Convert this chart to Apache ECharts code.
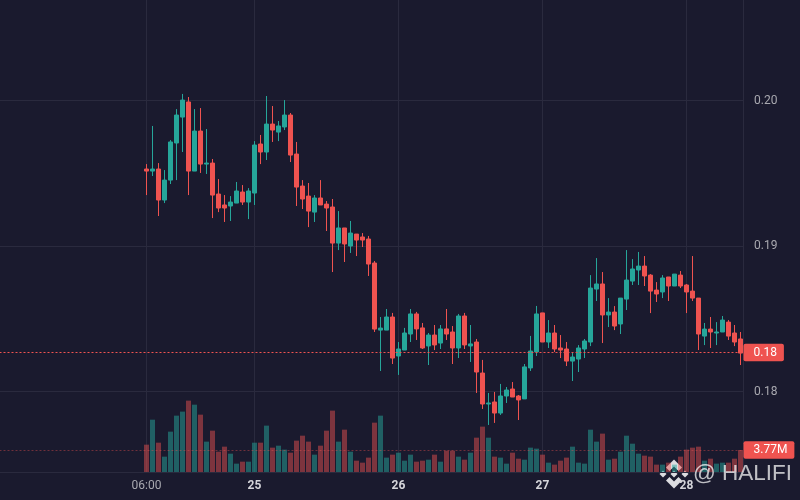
<!DOCTYPE html>
<html>
<head>
<meta charset="utf-8">
<style>html,body{margin:0;padding:0;background:#1a1a2e;}#c{width:800px;height:500px;}</style>
<script src="https://cdn.jsdelivr.net/npm/echarts@6/dist/echarts.min.js"></script>
</head>
<body>
<div id="c"></div>
<script>
const opens = [0.19529,0.19515,0.19529,0.19316,0.19453,0.19708,0.19886,0.19990,0.19515,0.19790,
0.19563,0.19570,0.19357,0.19282,0.19275,0.19295,0.19371,0.19302,0.19364,0.19701,
0.19646,0.19838,0.19783,0.19818,0.19900,0.19632,0.19412,0.19343,0.19233,0.19330,
0.19288,0.19268,0.19020,0.19124,0.19000,0.19082,0.19062,0.19048,0.18883,0.18422,
0.18422,0.18512,0.18244,0.18285,0.18395,0.18533,0.18437,0.18313,0.18388,0.18333,
0.18430,0.18409,0.18299,0.18519,0.18313,0.18340,0.18127,0.17914,0.17928,0.17852,
0.17969,0.18017,0.17969,0.17949,0.18162,0.18272,0.18540,0.18340,0.18402,0.18299,
0.18292,0.18209,0.18223,0.18292,0.18340,0.18704,0.18739,0.18526,0.18546,0.18464,
0.18635,0.18759,0.18835,0.18862,0.18800,0.18697,0.18684,0.18787,0.18725,0.18800,
0.18732,0.18690,0.18642,0.18381,0.18429,0.18402,0.18409,0.18477,0.18402,0.18361];
const closes = [0.19515,0.19529,0.19316,0.19453,0.19715,0.19900,0.20003,0.19515,0.19790,0.19563,
0.19570,0.19350,0.19261,0.19261,0.19302,0.19378,0.19302,0.19378,0.19694,0.19646,
0.19838,0.19797,0.19825,0.19900,0.19625,0.19405,0.19323,0.19240,0.19330,0.19282,
0.19261,0.19020,0.19124,0.19014,0.19089,0.19041,0.19041,0.18876,0.18429,0.18436,
0.18512,0.18230,0.18292,0.18402,0.18533,0.18430,0.18299,0.18388,0.18320,0.18430,
0.18395,0.18299,0.18519,0.18320,0.18327,0.18134,0.17914,0.17921,0.17852,0.17969,
0.18010,0.17962,0.17942,0.18169,0.18278,0.18533,0.18340,0.18402,0.18292,0.18285,
0.18209,0.18237,0.18299,0.18347,0.18711,0.18739,0.18526,0.18546,0.18450,0.18642,
0.18766,0.18842,0.18862,0.18794,0.18690,0.18670,0.18780,0.18725,0.18807,0.18725,
0.18684,0.18642,0.18395,0.18429,0.18409,0.18409,0.18491,0.18381,0.18340,0.18264];
const lows = [0.19350,0.19481,0.19206,0.19295,0.19426,0.19453,0.19646,0.19350,0.19515,0.19502,
0.19495,0.19192,0.19233,0.19165,0.19172,0.19295,0.19282,0.19185,0.19282,0.19563,
0.19591,0.19715,0.19721,0.19797,0.19577,0.19275,0.19254,0.19130,0.19165,0.19282,
0.19103,0.18821,0.18972,0.18890,0.18952,0.18931,0.18993,0.18794,0.18409,0.18141,
0.18422,0.18189,0.18114,0.18285,0.18340,0.18354,0.18292,0.18182,0.18285,0.18292,
0.18354,0.18189,0.18230,0.18292,0.18203,0.17990,0.17880,0.17770,0.17784,0.17839,
0.17921,0.17962,0.17804,0.17949,0.18141,0.18244,0.18340,0.18299,0.18271,0.18230,
0.18175,0.18072,0.18134,0.18230,0.18312,0.18622,0.18333,0.18443,0.18422,0.18395,
0.18560,0.18732,0.18732,0.18725,0.18539,0.18615,0.18642,0.18622,0.18725,0.18711,
0.18539,0.18622,0.18285,0.18319,0.18299,0.18319,0.18409,0.18354,0.18312,0.18182];
const highs = [0.19563,0.19825,0.19570,0.19522,0.19728,0.19941,0.20045,0.20024,0.19941,0.19948,
0.19804,0.19598,0.19460,0.19350,0.19343,0.19440,0.19419,0.19398,0.19721,0.19763,
0.20031,0.19962,0.19859,0.20003,0.19914,0.19715,0.19453,0.19433,0.19350,0.19453,
0.19309,0.19323,0.19240,0.19124,0.19172,0.19082,0.19089,0.19069,0.18897,0.18512,
0.18567,0.18540,0.18340,0.18437,0.18567,0.18547,0.18471,0.18402,0.18457,0.18457,
0.18567,0.18450,0.18533,0.18540,0.18457,0.18361,0.18217,0.17990,0.17997,0.18052,
0.18031,0.18065,0.17976,0.18189,0.18382,0.18588,0.18540,0.18491,0.18457,0.18388,
0.18340,0.18271,0.18319,0.18361,0.18800,0.18917,0.18821,0.18642,0.18587,0.18642,
0.18972,0.18910,0.18959,0.18931,0.18807,0.18752,0.18800,0.18787,0.18807,0.18828,
0.18739,0.18931,0.18642,0.18471,0.18512,0.18477,0.18519,0.18491,0.18457,0.18409];
const volumes = [4.68,8.96,5.02,2.63,6.91,9.65,10.34,12.22,11.53,9.82,
5.20,7.08,3.48,4.34,3.14,1.43,1.77,1.77,5.02,5.02,
7.94,4.17,4.51,3.83,3.31,5.37,6.22,5.20,2.97,4.51,
7.08,10.51,5.20,7.25,3.48,1.94,1.60,2.46,8.45,9.65,
2.46,2.97,3.31,1.94,2.97,1.77,1.94,2.11,2.97,1.77,
3.65,3.65,2.63,2.11,3.31,5.88,7.77,5.88,2.63,2.46,
1.43,3.31,2.28,2.11,4.17,4.00,2.97,1.60,1.26,1.94,
2.46,4.34,1.60,1.43,7.25,5.20,6.57,2.11,2.28,3.48,
6.22,4.85,3.14,2.80,2.63,1.26,1.26,1.60,1.26,2.63,
3.83,4.17,4.34,1.94,2.28,1.43,1.60,1.60,2.28,3.77];
const priceTicks = [0.18, 0.19, 0.20];
const leadingBlank = 24;
const tickLabels = {24: '06:00', 42: '25', 66: '26', 90: '27', 114: '28'};
const lastPrice = 0.18268, lastPriceLabel = '0.18';
const lastVolume = 3.77, lastVolumeLabel = '3.77M';
const watermark = '@ HALIFI';

const UP = '#26a69a', DOWN = '#ef5350', GRID = '#2a2a3e', BG = '#1a1a2e', TXT = '#a9a9b0';
const FONT = 'Roboto, sans-serif';
const blanks = Array(leadingBlank).fill('-');
const cats = Array.from({length: leadingBlank + opens.length}, (_, i) => String(i));
const isTick = i => tickLabels[i] !== undefined;
const candle = blanks.concat(opens.map((o, i) => [o, closes[i], lows[i], highs[i]]));
const vols = blanks.concat(volumes.map((v, i) => ({
  value: v,
  itemStyle: {color: closes[i] > opens[i] ? 'rgba(38,166,154,0.5)' : 'rgba(239,83,80,0.47)'}
})));
const GL = -0.5, GW = 744;

function markLabel(text) {
  return {
    show: true, position: 'end', distance: 0, formatter: text, color: '#fff',
    backgroundColor: DOWN, borderRadius: 2, fontSize: 12, fontFamily: FONT,
    padding: [3, 7, 3, 10], lineHeight: 11.5, align: 'left'
  };
}
const chart = echarts.init(document.getElementById('c'), null, {renderer: 'canvas'});
chart.setOption({
  backgroundColor: BG,
  animation: false,
  grid: [
    {left: GL, width: GW, top: 0, height: 472, outerBoundsMode: 'none'},
    {left: GL, width: GW, top: 392, height: 80, outerBoundsMode: 'none'}
  ],
  xAxis: [
    {type: 'category', gridIndex: 0, data: cats, boundaryGap: true,
     axisLine: {show: true, lineStyle: {color: GRID}}, axisTick: {show: false},
     splitLine: {show: true, interval: isTick, alignWithLabel: true, lineStyle: {color: GRID, width: 1}},
     axisLabel: {interval: isTick, margin: 8, color: TXT, fontSize: 12, fontFamily: FONT,
       hideOverlap: false,
       formatter: (v, i) => { const t = tickLabels[i]; return t === undefined ? '' : (t.includes(':') ? t : '{b|' + t + '}'); },
       rich: {b: {fontWeight: 'bold', color: '#d5d5da', fontSize: 12, fontFamily: FONT}}}},
    {type: 'category', gridIndex: 1, data: cats, boundaryGap: true, show: false}
  ],
  yAxis: [
    {type: 'value', gridIndex: 0, position: 'right', scale: true,
     min: 0.2 - 371.5 / 14550, max: 0.2 + 100.5 / 14550,
     axisLine: {show: true, lineStyle: {color: GRID}}, axisTick: {show: false, customValues: priceTicks},
     splitLine: {show: true, lineStyle: {color: GRID, width: 1}},
     axisLabel: {customValues: priceTicks, margin: 10.5, padding: [3, 0, 0, 0], color: TXT, fontSize: 12, fontFamily: FONT,
       formatter: v => v.toFixed(2)}},
    {type: 'value', gridIndex: 1, position: 'right', min: 0, max: 13.7, show: false}
  ],
  series: [
    {type: 'bar', xAxisIndex: 1, yAxisIndex: 1, data: vols, barWidth: 5, silent: true,
     markLine: {symbol: 'none', silent: true, animation: false, precision: 5,
       lineStyle: {color: 'rgba(239,83,80,0.4)', type: [2, 2], width: 1},
       label: markLabel(lastVolumeLabel),
       data: [{yAxis: lastVolume}]}},
    {type: 'candlestick', data: candle, barWidth: 4,
     itemStyle: {color: UP, color0: DOWN, borderColor: UP, borderColor0: DOWN, borderWidth: 1},
     markLine: {symbol: 'none', silent: true, animation: false, precision: 5,
       lineStyle: {color: DOWN, type: [2, 2], width: 1},
       label: markLabel(lastPriceLabel),
       data: [{yAxis: lastPrice}]}}
  ],
  graphic: [
    {type: 'group', x: 674, y: 474, z: 100, silent: true, children: [
      {type: 'polygon', shape: {points: [[0,-14.5],[8,-6.5],[4.5,-3],[0,-7.5],[-4.5,-3],[-8,-6.5]]}, style: {fill: 'rgba(255,255,255,0.85)'}},
      {type: 'polygon', shape: {points: [[0,14.5],[8,6.5],[4.5,3],[0,7.5],[-4.5,3],[-8,6.5]]}, style: {fill: 'rgba(255,255,255,0.85)'}},
      {type: 'polygon', shape: {points: [[-14.5,0],[-11,-3.5],[-7.5,0],[-11,3.5]]}, style: {fill: 'rgba(255,255,255,0.85)'}},
      {type: 'polygon', shape: {points: [[14.5,0],[11,-3.5],[7.5,0],[11,3.5]]}, style: {fill: 'rgba(255,255,255,0.85)'}},
      {type: 'polygon', shape: {points: [[0,-3.5],[3.5,0],[0,3.5],[-3.5,0]]}, style: {fill: 'rgba(255,255,255,0.85)'}}
    ]},
    {type: 'text', x: 693, y: 474, z: 100, silent: true,
     style: {text: watermark, fill: 'rgba(255,255,255,0.72)', fontSize: 22.5, fontFamily: 'Liberation Sans, Arial, sans-serif', verticalAlign: 'middle', align: 'left'}}
  ]
});
</script>
</body>
</html>
